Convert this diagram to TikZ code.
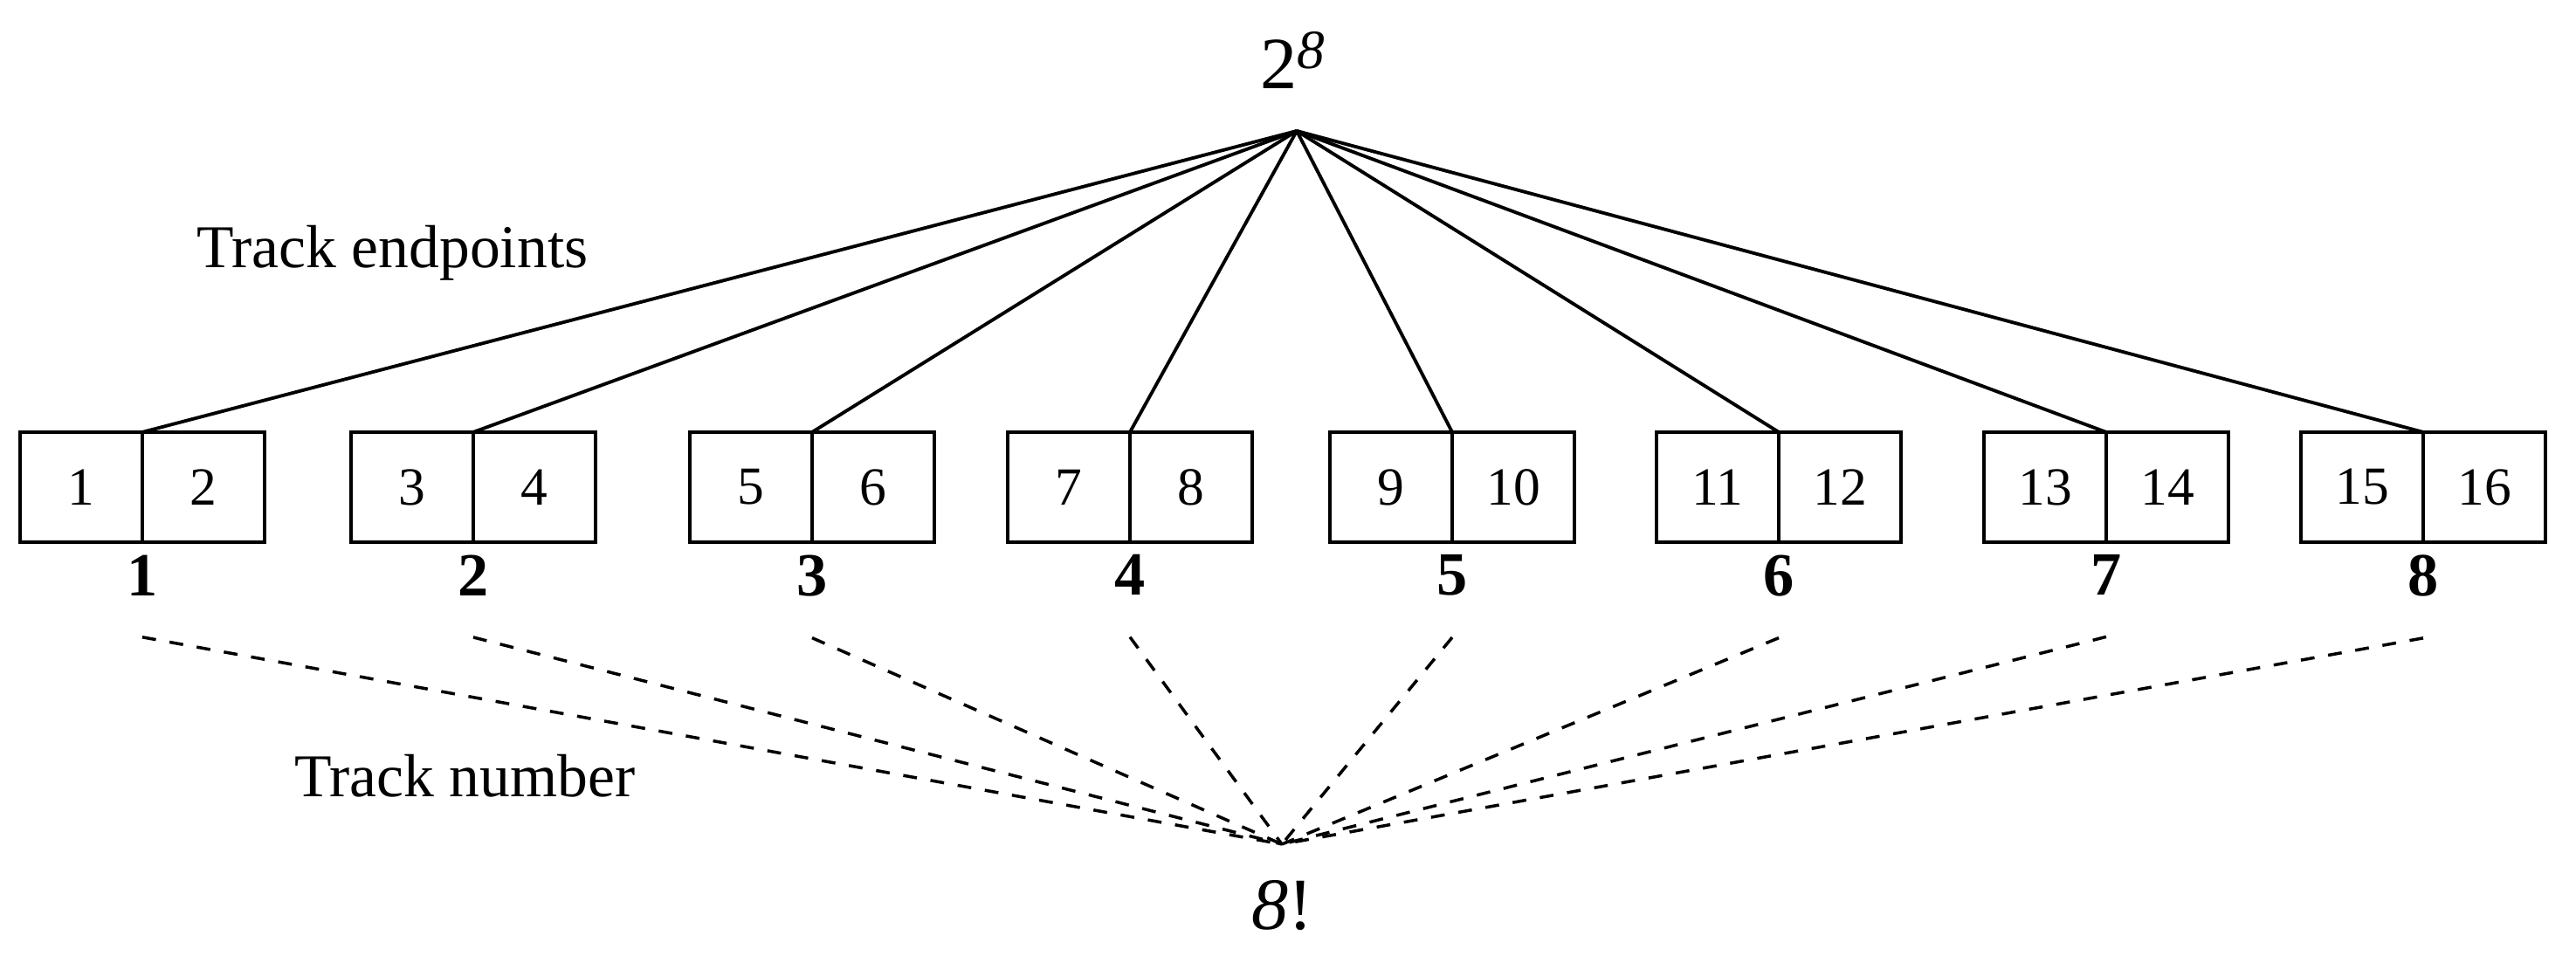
\documentclass[tikz,border=0pt]{standalone}
\usepackage{fontspec}
\setmainfont{Liberation Serif}
\usetikzlibrary{positioning}

\begin{document}
\begin{tikzpicture}[
cell/.style={rectangle, draw, line width=1.3pt, outer sep=0pt, inner sep=0pt, minimum width=1.40cm, minimum height=1.26cm, font=\fontsize{17.5}{18}\selectfont},
trk/.style={inner sep=0pt, font=\fontsize{20}{22}\selectfont\bfseries},
lbl/.style={inner sep=0pt, anchor=base west, font=\fontsize{19.8}{22}\selectfont},
big/.style={inner sep=0pt, anchor=base west, font=\fontsize{24}{26}\selectfont},
edge/.style={line width=1.1pt},
perm/.style={line width=1pt, dash pattern=on 4.5pt off 4.5pt}]
\useasboundingbox (0,0) rectangle (29.5,10.95);

\coordinate (top) at (14.85,9.45);
\coordinate (bot) at (14.68,1.28);
\node[big] (ends) at (14.43,9.93) {2\raisebox{6.8pt}{\fontsize{18}{18}\selectfont\itshape 8}};
\node[big] (perms) at (14.33,0.30) {\textit{8}!};
\node[lbl] (endlbl) at (2.25,7.88) {Track endpoints};
\node[lbl] (numlbl) at (3.37,1.82) {Track number};

\node[cell, anchor=east] (c1) at (1.63,5.37) {1};
\node[cell, right=0pt of c1] (c2) {2};
\node[cell, anchor=east] (c3) at (5.42,5.37) {3};
\node[cell, right=0pt of c3] (c4) {4};
\node[cell, anchor=east] (c5) at (9.30,5.37) {5};
\node[cell, right=0pt of c5] (c6) {6};
\node[cell, anchor=east] (c7) at (12.94,5.37) {7};
\node[cell, right=0pt of c7] (c8) {8};
\node[cell, anchor=east] (c9) at (16.63,5.37) {9};
\node[cell, right=0pt of c9] (c10) {10};
\node[cell, anchor=east] (c11) at (20.37,5.37) {11};
\node[cell, right=0pt of c11] (c12) {12};
\node[cell, anchor=east] (c13) at (24.12,5.37) {13};
\node[cell, right=0pt of c13] (c14) {14};
\node[cell, anchor=east] (c15) at (27.75,5.37) {15};
\node[cell, right=0pt of c15] (c16) {16};

\node[trk, below=0.14cm of c1.south east] (t1) {1};
\node[trk, below=0.14cm of c3.south east] (t2) {2};
\node[trk, below=0.14cm of c5.south east] (t3) {3};
\node[trk, below=0.14cm of c7.south east] (t4) {4};
\node[trk, below=0.14cm of c9.south east] (t5) {5};
\node[trk, below=0.14cm of c11.south east] (t6) {6};
\node[trk, below=0.14cm of c13.south east] (t7) {7};
\node[trk, below=0.14cm of c15.south east] (t8) {8};

\coordinate[below=0.47cm of t1] (d1);
\coordinate[below=0.47cm of t2] (d2);
\coordinate[below=0.47cm of t3] (d3);
\coordinate[below=0.47cm of t4] (d4);
\coordinate[below=0.47cm of t5] (d5);
\coordinate[below=0.47cm of t6] (d6);
\coordinate[below=0.47cm of t7] (d7);
\coordinate[below=0.47cm of t8] (d8);

\draw[edge] (top) -- (c1.north east);
\draw[edge] (top) -- (c3.north east);
\draw[edge] (top) -- (c5.north east);
\draw[edge] (top) -- (c7.north east);
\draw[edge] (top) -- (c9.north east);
\draw[edge] (top) -- (c11.north east);
\draw[edge] (top) -- (c13.north east);
\draw[edge] (top) -- (c15.north east);

\draw[perm] (d1) -- (bot);
\draw[perm] (d2) -- (bot);
\draw[perm] (d3) -- (bot);
\draw[perm] (d4) -- (bot);
\draw[perm] (d5) -- (bot);
\draw[perm] (d6) -- (bot);
\draw[perm] (d7) -- (bot);
\draw[perm] (d8) -- (bot);
\end{tikzpicture}
\end{document}
